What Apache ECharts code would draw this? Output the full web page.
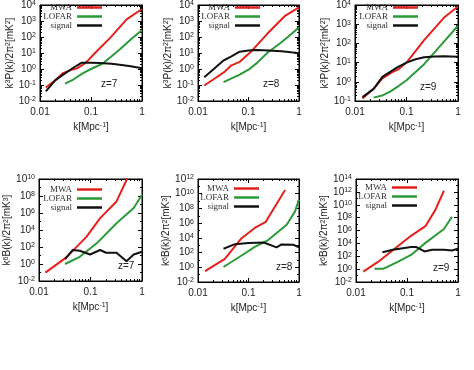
<!DOCTYPE html>
<html><head><meta charset="utf-8">
<script src="https://cdn.jsdelivr.net/npm/echarts@6/dist/echarts.min.js"></script>
<style>html,body{margin:0;padding:0;background:#fff}#c{width:474px;height:370px}</style>
</head><body><div id="c"></div>
<script>
// ---------- data (k in Mpc^-1) ----------
// Power spectrum, z=7
const kP7mwa = [0.013, 0.02, 0.028, 0.04, 0.053, 0.065, 0.083, 0.12, 0.235, 0.5, 1];
const vP7mwa = [0.069, 0.2, 0.55, 0.85, 1.1, 1.6, 2.9, 10, 85, 1260, 5600];
const kP7lof = [0.031, 0.045, 0.07, 0.1, 0.17, 0.25, 0.37, 0.6, 1];
const vP7lof = [0.12, 0.22, 0.55, 1.0, 2.2, 6, 17, 70, 270];
const kP7sig = [0.013, 0.02, 0.03, 0.045, 0.066, 0.1, 0.15, 0.25, 0.4, 0.6, 1];
const vP7sig = [0.04, 0.2, 0.5, 1.2, 2.5, 2.5, 2.4, 2.1, 1.8, 1.5, 1.1];
// Power spectrum, z=8
const kP8mwa = [0.0133, 0.02, 0.034, 0.046, 0.067, 0.115, 0.24, 0.52, 1];
const vP8mwa = [0.093, 0.22, 0.69, 1.7, 2.8, 13, 170, 2000, 7000];
const kP8lof = [0.032, 0.045, 0.067, 0.1, 0.15, 0.24, 0.4, 0.6, 1];
const vP8lof = [0.15, 0.25, 0.44, 0.9, 2.5, 10.7, 35, 100, 400];
const kP8sig = [0.0133, 0.02, 0.032, 0.045, 0.067, 0.1, 0.135, 0.2, 0.3, 0.45, 0.7, 1];
const vP8sig = [0.31, 0.93, 3.4, 6, 12, 14.5, 15.5, 15, 14, 13, 11, 9.8];
// Power spectrum, z=9
const kP9mwa = [0.0139, 0.023, 0.034, 0.053, 0.071, 0.1, 0.22, 0.53, 1];
const vP9mwa = [0.135, 0.43, 1.5, 3.2, 4.6, 10, 147, 2150, 8300];
const kP9lof = [0.023, 0.035, 0.049, 0.07, 0.1, 0.22, 0.53, 1];
const vP9lof = [0.15, 0.2, 0.32, 0.6, 1.2, 8.3, 120, 830];
const kP9sig = [0.014, 0.023, 0.034, 0.066, 0.1, 0.15, 0.22, 0.35, 0.53, 1];
const vP9sig = [0.16, 0.43, 1.8, 5.6, 10, 15, 19, 21, 21.5, 20];
// Bispectrum, z=7
const kB7mwa = [0.0133, 0.034, 0.084, 0.154, 0.32, 0.52];
const vB7mwa = [0.098, 6, 1660, 2.5e5, 2.3e7, 1.2e10];
const kB7lof = [0.032, 0.062, 0.132, 0.32, 0.69, 1];
const vB7lof = [1, 7, 270, 6.3e4, 3.8e6, 1.4e8];
const kB7sig = [0.032, 0.045, 0.062, 0.098, 0.154, 0.2, 0.32, 0.5, 0.69, 1];
const vB7sig = [3.7, 44, 36, 13, 44, 21, 21, 2.1, 13, 28];
// Bispectrum, z=8
const kB8mwa = [0.0138, 0.034, 0.073, 0.133, 0.22, 0.53];
const vB8mwa = [0.3, 14, 8900, 2.2e5, 1.5e6, 3.2e10];
const kB8lof = [0.032, 0.073, 0.133, 0.245, 0.57, 0.83, 1];
const vB8lof = [1.1, 40, 600, 5000, 6e5, 3.7e7, 1.6e9];
const kB8sig = [0.032, 0.054, 0.1, 0.2, 0.36, 0.45, 0.77, 1];
const vB8sig = [330, 1400, 2000, 2300, 500, 1260, 1150, 500];
// Bispectrum, z=9
const kB9mwa = [0.0139, 0.027, 0.066, 0.12, 0.23, 0.36, 0.53];
const vB9mwa = [0.4, 13, 3550, 1.5e5, 4.7e6, 1.6e9, 1.5e12];
const kB9lof = [0.023, 0.034, 0.066, 0.12, 0.23, 0.53, 0.76];
const vB9lof = [1.1, 1.1, 13, 160, 1.2e4, 1.7e6, 1.35e8];
const kB9sig = [0.033, 0.053, 0.12, 0.15, 0.22, 0.31, 0.53, 0.76, 1];
const vB9sig = [430, 1000, 2750, 2750, 550, 1000, 1000, 800, 1500];

const seriesNames = ['MWA', 'LOFAR', 'signal'];
const zLabels = ['z=7', 'z=8', 'z=9', 'z=7', 'z=8', 'z=9'];
const xTicks = [0.01, 0.1, 1];
const xMinor = [0.02, 0.03, 0.04, 0.05, 0.06, 0.07, 0.08, 0.09, 0.2, 0.3, 0.4, 0.5, 0.6, 0.7, 0.8, 0.9];
const yRanges = [[1e-2, 1e4], [1e-2, 1e4], [1e-1, 1e4], [1e-2, 1e10], [1e-2, 1e12], [1e-2, 1e14]];
const yStep = [1, 1, 1, 2, 2, 2];
const nameP = '{n|k}{s|3}{n|P(k)/2π}{s|2}{n|[mK}{s|2}{n|]}';
const nameB = '{n|k}{s|6}{n|B(k)/2π}{s|2}{n|[mK}{s|3}{n|]}';
const nameX = '{n|k[Mpc}{s|-1}{n|]}';

const panelData = [
  [[kP7mwa, vP7mwa], [kP7lof, vP7lof], [kP7sig, vP7sig]],
  [[kP8mwa, vP8mwa], [kP8lof, vP8lof], [kP8sig, vP8sig]],
  [[kP9mwa, vP9mwa], [kP9lof, vP9lof], [kP9sig, vP9sig]],
  [[kB7mwa, vB7mwa], [kB7lof, vB7lof], [kB7sig, vB7sig]],
  [[kB8mwa, vB8mwa], [kB8lof, vB8lof], [kB8sig, vB8sig]],
  [[kB9mwa, vB9mwa], [kB9lof, vB9lof], [kB9sig, vB9sig]]
];

// minor tick positions on the y axes (2..9 per decade, or odd decades when labels step by 2)
function yMinorTicks(i) {
  const lo = Math.round(Math.log10(yRanges[i][0])), hi = Math.round(Math.log10(yRanges[i][1]));
  const out = [];
  for (let e = lo; e < hi; e++) {
    if (yStep[i] === 1) { for (let m = 2; m <= 9; m++) out.push(m * Math.pow(10, e)); }
    else if ((e - lo) % 2 === 1) out.push(Math.pow(10, e));
  }
  return out;
}

// ---------- layout / style ----------
const layout = [
  {left: 40, top: 1, width: 102, height: 100, legR: 372, legT: 3, zx: 110, zy: 85},
  {left: 198, top: 1, width: 101, height: 100, legR: 214, legT: 3, zx: 272, zy: 85},
  {left: 355, top: 1, width: 103, height: 100, legR: 56, legT: 3, zx: 429, zy: 88},
  {left: 39, top: 179, width: 103, height: 102, legR: 372, legT: 185, zx: 127, zy: 267},
  {left: 198, top: 179, width: 101, height: 103, legR: 215, legT: 184, zx: 285, zy: 268},
  {left: 356, top: 179, width: 102, height: 103, legR: 57, legT: 183, zx: 442, zy: 269}
];
const colors = ['#e3211c', '#2b9a38', '#111111'];
const SANS = 'Liberation Sans, Arial, sans-serif';
const SERIF = 'Liberation Serif, Times New Roman, serif';
const txt = '#222';
const richNum = {
  b: {fontSize: 10, fontFamily: SANS, color: txt},
  e: {fontSize: 7, fontFamily: SANS, color: txt, verticalAlign: 'top'}
};
const richName = {
  n: {fontSize: 10, fontFamily: SANS, color: txt},
  s: {fontSize: 7, fontFamily: SANS, color: txt, verticalAlign: 'top'}
};
const fmtY = v => '{b|10}{e|' + Math.round(Math.log10(v)) + '}';
const fmtX = v => {
  const e = Math.round(Math.log10(v));
  return e === 0 ? '1' : e === -1 ? '0.1' : '0.01';
};

const grid = [], xAxis = [], yAxis = [], series = [], legend = [], graphic = [];
const axLine = {show: true, lineStyle: {color: '#000', width: 1}};
const major = {show: true, inside: true, length: 4, lineStyle: {color: '#000'}};
layout.forEach((L, i) => {
  grid.push({left: L.left, top: L.top, width: L.width, height: L.height,
    show: true, borderColor: '#000', borderWidth: 1, backgroundColor: 'transparent'});
  const xBase = {type: 'log', logBase: 10, gridIndex: i, min: xTicks[0], max: xTicks[2], splitLine: {show: false}};
  xAxis.push(Object.assign({}, xBase, {position: 'bottom', axisLine: axLine, axisTick: major,
    axisLabel: {formatter: fmtX, fontSize: 10, fontFamily: SANS, color: txt, margin: 6},
    name: nameX, nameLocation: 'middle', nameGap: 21, nameTextStyle: {rich: richName}}));
  xAxis.push(Object.assign({}, xBase, {position: 'top', axisLine: axLine, axisTick: major, axisLabel: {show: false}}));
  ['bottom', 'top'].forEach(p => xAxis.push(Object.assign({}, xBase, {position: p,
    axisLine: {show: false}, axisLabel: {show: false},
    axisTick: {show: true, inside: true, length: 2, customValues: xMinor, lineStyle: {color: '#000'}}})));

  const yBase = {type: 'log', logBase: 10, gridIndex: i, min: yRanges[i][0], max: yRanges[i][1],
    interval: yStep[i], splitLine: {show: false}};
  yAxis.push(Object.assign({}, yBase, {position: 'left', axisLine: axLine, axisTick: major,
    axisLabel: {formatter: fmtY, rich: richNum, margin: 4},
    name: i < 3 ? nameP : nameB, nameLocation: 'middle', nameRotate: 90, nameGap: 24,
    nameTextStyle: {rich: richName}}));
  yAxis.push(Object.assign({}, yBase, {position: 'right', axisLine: axLine, axisTick: major, axisLabel: {show: false}}));
  const ym = yMinorTicks(i);
  ['left', 'right'].forEach(p => yAxis.push(Object.assign({}, yBase, {position: p,
    axisLine: {show: false}, axisLabel: {show: false},
    axisTick: {show: true, inside: true, length: 2, customValues: ym, lineStyle: {color: '#000'}}})));

  panelData[i].forEach((pair, j) => {
    series.push({type: 'line', name: seriesNames[j], xAxisIndex: 4 * i, yAxisIndex: 4 * i,
      data: pair[0].map((k, n) => [k, pair[1][n]]), symbol: 'none', showSymbol: false, smooth: false,
      color: colors[j], itemStyle: {color: colors[j]}, lineStyle: {width: 2, color: colors[j]},
      clip: true, z: 2 + j, silent: true, animation: false});
  });
  legend.push({data: seriesNames, orient: 'vertical', right: L.legR, top: L.legT,
    align: 'right', padding: 0, itemGap: 0, itemWidth: 25, itemHeight: 2.5, itemTextGap: 4,
    icon: 'rect', selectedMode: false,
    textStyle: {fontFamily: SERIF, fontSize: 9, color: '#333', lineHeight: 9}});
  graphic.push({type: 'text', left: L.zx - 9, top: L.zy - 6,
    style: {text: zLabels[i], font: '10px ' + SANS, fill: txt}});
});

const chart = echarts.init(document.getElementById('c'), null, {renderer: 'canvas'});
chart.setOption({animation: false, grid, xAxis, yAxis, series, legend, graphic});
</script></body></html>
